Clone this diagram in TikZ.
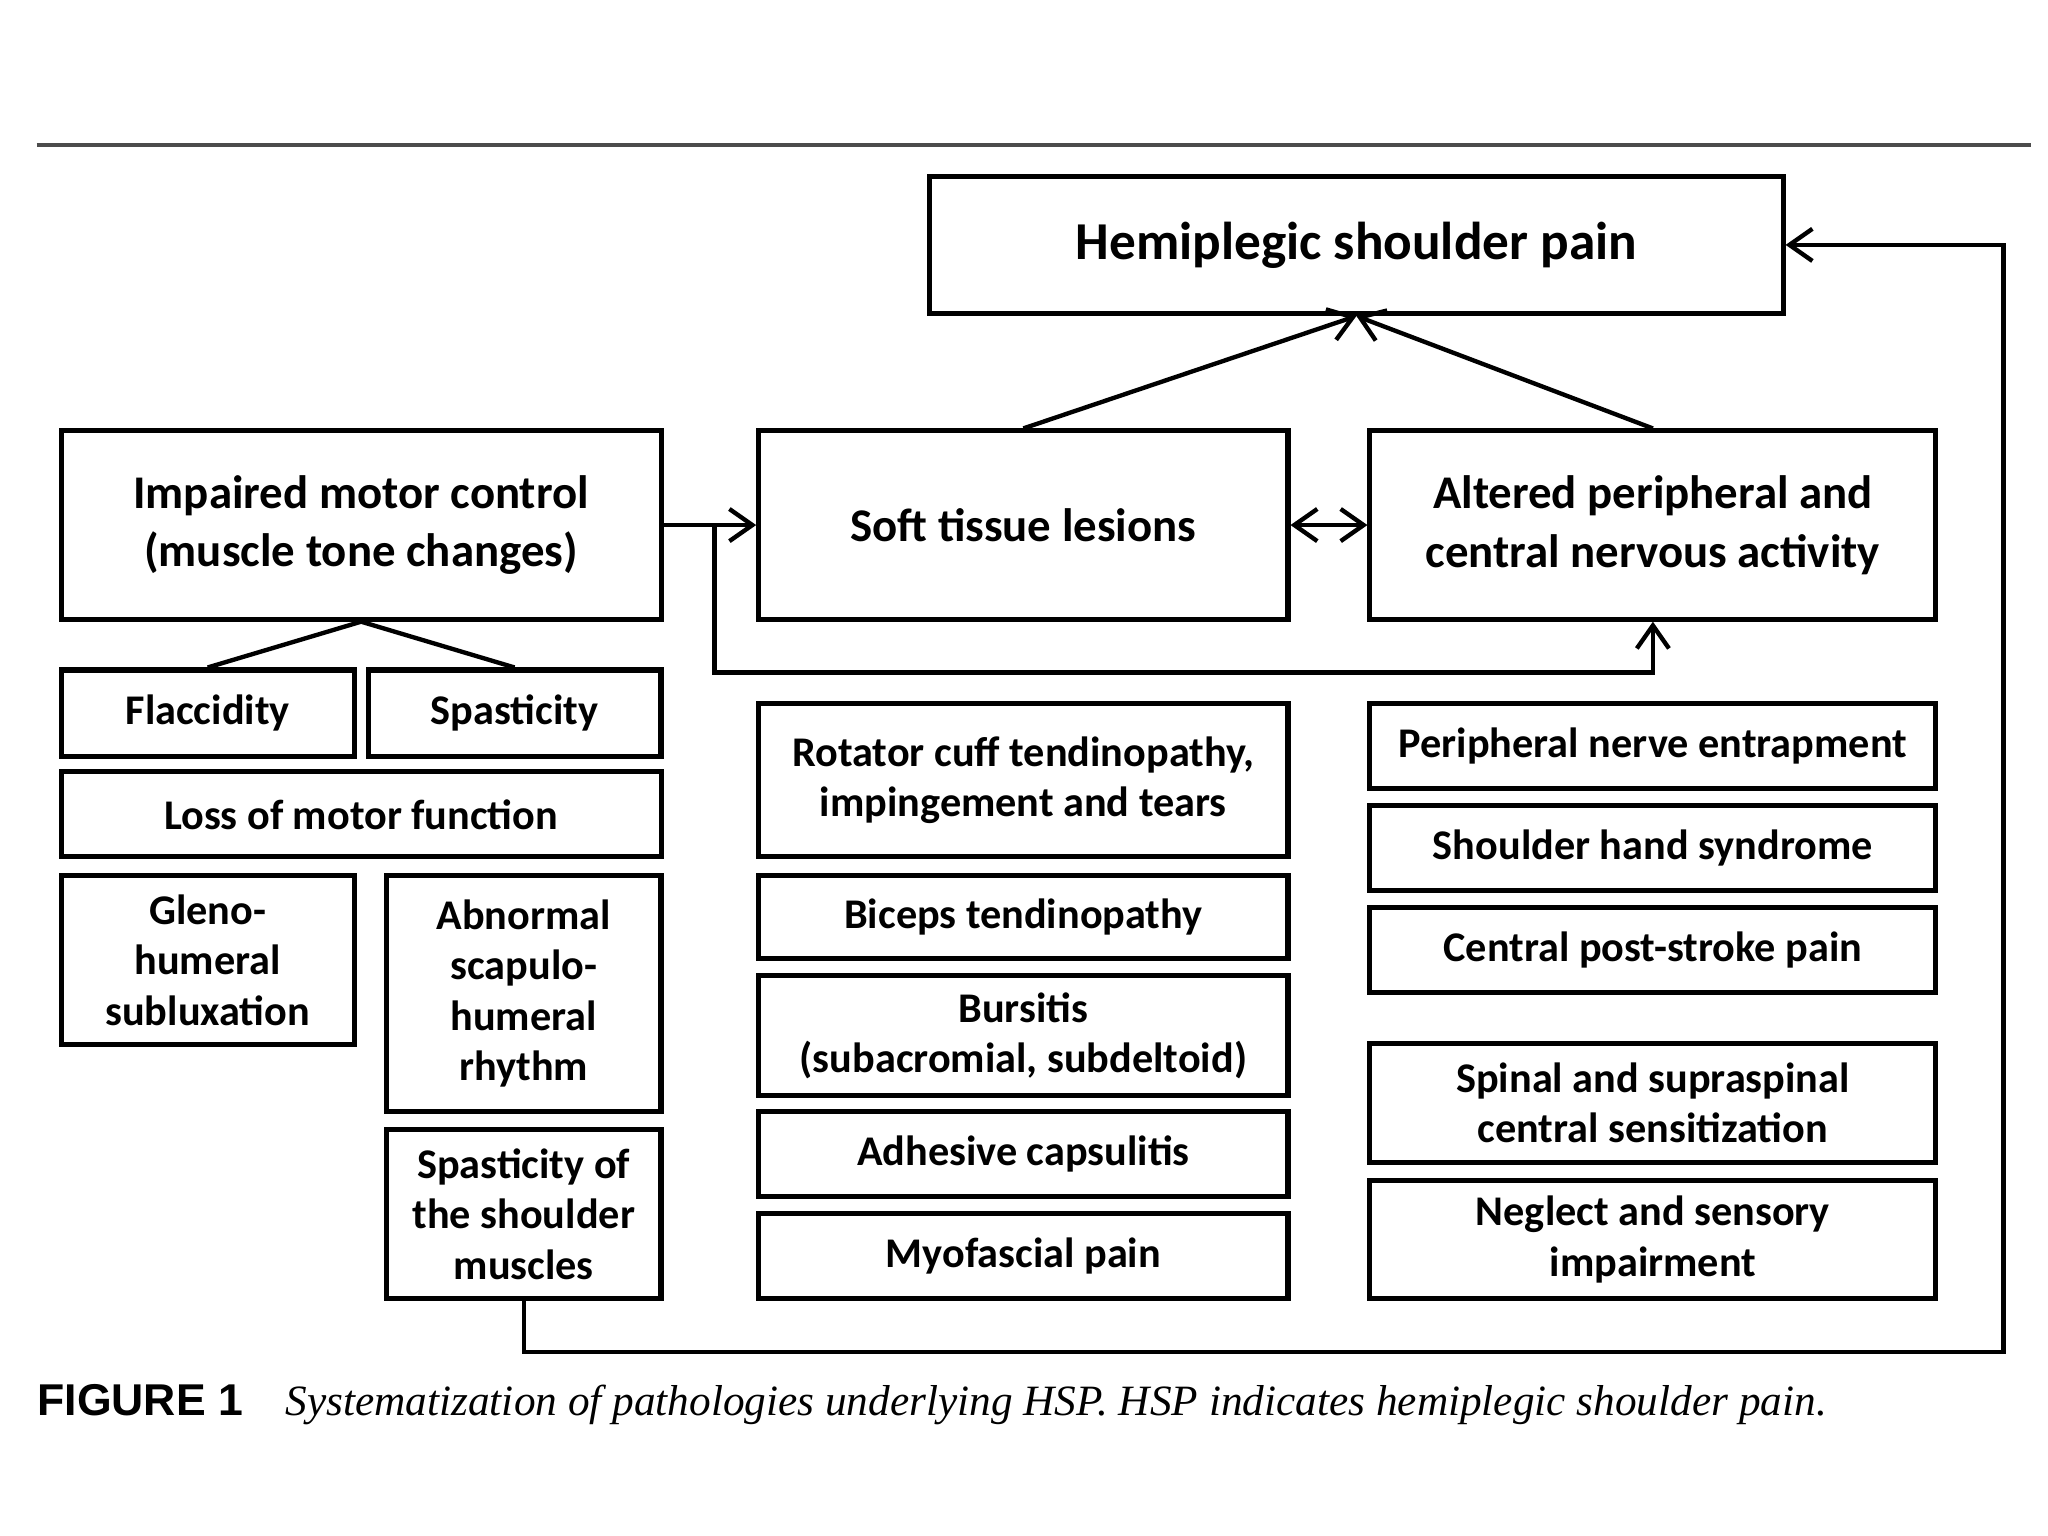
\documentclass[tikz,border=0pt]{standalone}
\usepackage{fontspec}
\setmainfont{Carlito}
\newfontfamily\capfont{Liberation Serif}
\newfontfamily\figfont{Liberation Sans}
\usepackage{tikz}
\usetikzlibrary{arrows.meta}

\begin{document}
\begin{tikzpicture}[x=0.01cm, y=-0.01cm,
    box/.style={draw, line width=1.1pt, align=center, inner sep=0pt, font=\bfseries\fontsize{9.2}{11}\selectfont},
    bigbox/.style={box, font=\bfseries\fontsize{10.2}{12.8}\selectfont, minimum height=1.44cm},
    link/.style={line width=0.95pt},
    arr/.style={link, -{Straight Barb[length=5pt, width=7pt]}}]
          \useasboundingbox (0,0) rectangle (1568,1176);
          \draw[gray!60!black, line width=0.8pt] (28,111) -- (1555,111);
          % top and main row
          \node[box, font=\bfseries\fontsize{11.6}{14}\selectfont, minimum width=6.53cm, minimum height=1.05cm] (hsp) at (1038.5,187.5) {Hemiplegic shoulder pain};
          \node[bigbox, minimum width=4.59cm] (imc) at (276.5,402) {Impaired motor control\\(muscle tone changes)};
          \node[bigbox, minimum width=4.05cm] (stl) at (783.5,402) {Soft tissue lesions};
          \node[bigbox, minimum width=4.33cm] (apc) at (1265.5,402) {Altered peripheral and\\central nervous activity};
          % left column
          \node[box, minimum width=2.24cm, minimum height=0.66cm] (flac) at (159,546) {Flaccidity};
          \node[box, minimum width=2.24cm, minimum height=0.66cm] (spas) at (394,546) {Spasticity};
          \node[box, minimum width=4.59cm, minimum height=0.65cm] (loss) at (276.5,623.5) {Loss of motor function};
          \node[box, minimum width=2.24cm, minimum height=1.30cm] (gleno) at (159,735) {Gleno-\\humeral\\subluxation};
          \node[box, minimum width=2.10cm, minimum height=1.81cm] (abn) at (401,760.5) {Abnormal\\scapulo-\\humeral\\rhythm};
          \node[box, minimum width=2.10cm, minimum height=1.29cm] (spsh) at (401,929.5) {Spasticity of\\the shoulder\\muscles};
          % middle column
          \node[box, minimum width=4.05cm, minimum height=1.17cm] (rot) at (783.5,597.5) {Rotator cuff tendinopathy,\\impingement and tears};
          \node[box, minimum width=4.05cm, minimum height=0.64cm] (bic) at (783.5,702) {Biceps tendinopathy};
          \node[box, minimum width=4.05cm, minimum height=0.92cm] (burs) at (783.5,793) {Bursitis\\(subacromial, subdeltoid)};
          \node[box, minimum width=4.05cm, minimum height=0.65cm] (adh) at (783.5,883.5) {Adhesive capsulitis};
          \node[box, minimum width=4.05cm, minimum height=0.65cm] (myo) at (783.5,961.5) {Myofascial pain};
          % right column
          \node[box, minimum width=4.33cm, minimum height=0.65cm] (pne) at (1265.5,571.5) {Peripheral nerve entrapment};
          \node[box, minimum width=4.33cm, minimum height=0.65cm] (shs) at (1265.5,649.5) {Shoulder hand syndrome};
          \node[box, minimum width=4.33cm, minimum height=0.65cm] (cpsp) at (1265.5,727.5) {Central post-stroke pain};
          \node[box, minimum width=4.33cm, minimum height=0.91cm] (spin) at (1265.5,844.5) {Spinal and supraspinal\\central sensitization};
          \node[box, minimum width=4.33cm, minimum height=0.90cm] (negl) at (1265.5,949) {Neglect and sensory\\impairment};
          % connectors
          \draw[arr] (stl.north) -- (hsp.south);
          \draw[arr] (apc.north) -- (hsp.south);
          \draw[arr] (imc.east) -- (stl.west);
          \draw[link, {Straight Barb[length=5pt, width=7pt]}-{Straight Barb[length=5pt, width=7pt]}] (stl.east) -- (apc.west);
          \coordinate (br) at (547,402);
          \draw[arr] (br) -- ++(0,113) -| (apc.south);
          \draw[link] (imc.south) -- (flac.north);
          \draw[link] (imc.south) -- (spas.north);
          \coordinate (fb) at (1534,1035);
          \draw[arr] (spsh.south) |- (fb) |- (hsp.east);
          % caption
          \node[anchor=base west, inner sep=0pt, font=\figfont\bfseries\fontsize{9.7}{12}\selectfont] (fig) at (28,1084) {FIGURE 1};
          \node[anchor=base west, inner sep=0pt, font=\capfont\itshape\fontsize{9.42}{12}\selectfont] (cap) at (218,1084) {Systematization of pathologies underlying HSP. HSP indicates hemiplegic shoulder pain.};
        \end{tikzpicture}
\end{document}
